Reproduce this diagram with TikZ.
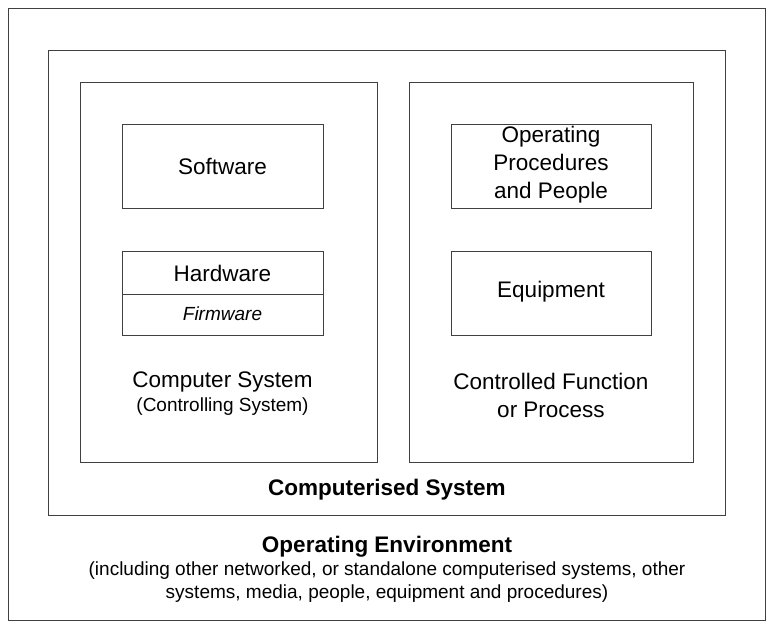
\documentclass[tikz,border=0pt]{standalone}
\usepackage{fontspec}
\setmainfont{Liberation Sans}
\begin{document}
\begin{tikzpicture}[x=1pt,y=-1pt,
  bx/.style={draw=black!75,line width=0.8pt},
  lbl/.style={font=\fontsize{22.5}{28}\selectfont,align=center,inner sep=0},
  sml/.style={font=\fontsize{19}{23}\selectfont,align=center,inner sep=0}]
\useasboundingbox (0,0) rectangle (773,628);
\draw[bx] (8,8) rectangle (765,620);
\draw[bx] (48,50) rectangle (725,515);
\draw[bx] (80,82) rectangle (377,462);
\draw[bx] (409,82) rectangle (693,462);
\draw[bx] (122,124) rectangle (323,208);
\draw[bx] (122,251) rectangle (323,335);
\draw[bx] (122,294) -- (323,294);
\draw[bx] (451,124) rectangle (651,208);
\draw[bx] (451,251) rectangle (651,335);
\node[lbl] (sw) at (222.5,166) {Software};
\node[lbl] (hw) at (222.5,273) {Hardware};
\node[sml] (fw) at (222.5,314) {\itshape Firmware};
\node[lbl] (op) at (551,165) {Operating\\Procedures\\and People};
\node[lbl] (eq) at (551,292) {Equipment};
\node[lbl] (cs) at (222.5,382) {Computer System};
\node[sml] (csc) at (222.5,407) {(Controlling System)};
\node[lbl] (cf) at (551,395) {Controlled Function\\or Process};
\node[lbl] (sys) at (387,490) {\bfseries Computerised System};
\node[lbl] (env) at (387,547) {\bfseries Operating Environment};
\node[sml] (envt) at (387,582) {(including other networked, or standalone computerised systems, other\\systems, media, people, equipment and procedures)};
\end{tikzpicture}
\end{document}
